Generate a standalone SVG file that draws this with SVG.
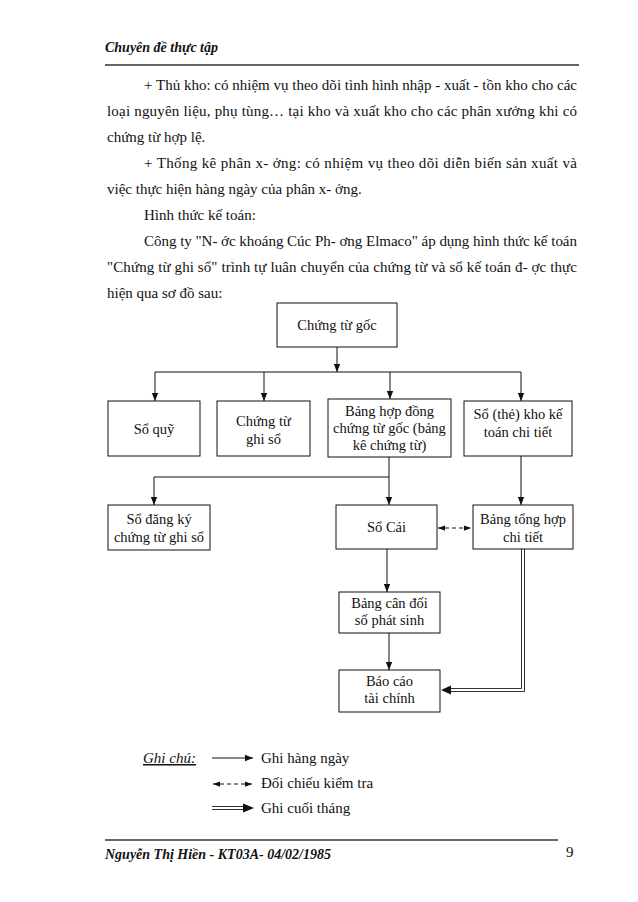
<svg xmlns="http://www.w3.org/2000/svg" width="638" height="902" viewBox="0 0 638 902">
<defs>
<style>
.body{font-family:"Liberation Serif","Times New Roman",serif;font-size:15px;fill:#111}
.bx{fill:#fff;stroke:#111;stroke-width:1}
.lbl{font-family:"Liberation Serif","Times New Roman",serif;font-size:14.5px;fill:#111;text-anchor:middle}
.ln{fill:none;stroke:#111;stroke-width:1}
.dash{fill:none;stroke:#111;stroke-width:1;stroke-dasharray:4 3}
.dbl{fill:none;stroke:#333;stroke-width:1}
.scr{font-family:"Liberation Serif","Times New Roman",serif;font-style:italic;font-weight:bold;fill:#111}
</style>
<marker id="ah" viewBox="0 0 8 8" refX="8" refY="4" markerWidth="8" markerHeight="8" markerUnits="userSpaceOnUse" orient="auto">
<path d="M0,0.8 L8,4 L0,7.2 Z" fill="#111"/>
</marker>
<marker id="ahs" viewBox="0 0 8 8" refX="8" refY="4" markerWidth="7" markerHeight="7" markerUnits="userSpaceOnUse" orient="auto-start-reverse">
<path d="M0,1 L8,4 L0,7 Z" fill="#111"/>
</marker>
</defs>
<rect width="638" height="902" fill="#fff"/>

<g id="header">
<text class="scr" x="105" y="52" font-size="14">Chuyên đề thực tập</text>
<line x1="105" y1="65" x2="579" y2="65" stroke="#666" stroke-width="2"/>
</g>

<g id="paragraphs" class="body">
<text x="144" y="90" textLength="433" lengthAdjust="spacing">+ Thủ kho: có nhiệm vụ theo dõi tình hình nhập - xuất - tồn kho cho các</text>
<text x="107" y="116" textLength="470" lengthAdjust="spacing">loại nguyên liệu, phụ tùng… tại kho và xuất kho cho các phân xưởng khi có</text>
<text x="107" y="142">chứng từ hợp lệ.</text>
<text x="144" y="168" textLength="433" lengthAdjust="spacing">+ Thống kê phân x- ởng: có nhiệm vụ theo dõi diễn biến sản xuất và</text>
<text x="107" y="194">việc thực hiện hàng ngày của phân x- ởng.</text>
<text x="144" y="220">Hình thức kế toán:</text>
<text x="144" y="246" textLength="433" lengthAdjust="spacing">Công ty "N- ớc khoáng Cúc Ph- ơng Elmaco" áp dụng hình thức kế toán</text>
<text x="107" y="272" textLength="470" lengthAdjust="spacing">"Chứng từ ghi sổ" trình tự luân chuyển của chứng từ và sổ kế toán đ- ợc thực</text>
<text x="107" y="298">hiện qua sơ đồ sau:</text>
</g>

<g id="connectors">
<line class="ln" x1="337" y1="347" x2="337" y2="372" marker-end="url(#ah)"/>
<line class="ln" x1="155" y1="372" x2="521" y2="372"/>
<line class="ln" x1="155" y1="372" x2="155" y2="401" marker-end="url(#ah)"/>
<line class="ln" x1="264" y1="372" x2="264" y2="401" marker-end="url(#ah)"/>
<line class="ln" x1="390" y1="372" x2="390" y2="399" marker-end="url(#ah)"/>
<line class="ln" x1="521" y1="372" x2="521" y2="401" marker-end="url(#ah)"/>
<line class="ln" x1="389" y1="457" x2="389" y2="505" marker-end="url(#ah)"/>
<polyline class="ln" points="389,477 154,477 154,505" marker-end="url(#ah)"/>
<line class="ln" x1="521" y1="456" x2="521" y2="505" marker-end="url(#ah)"/>
<line class="dash" x1="438" y1="528" x2="471" y2="528" marker-start="url(#ahs)" marker-end="url(#ahs)"/>
<line class="ln" x1="387" y1="549" x2="387" y2="592" marker-end="url(#ah)"/>
<line class="ln" x1="389" y1="633" x2="389" y2="670" marker-end="url(#ah)"/>
<polyline class="dbl" points="521.5,549 521.5,688.5 449,688.5"/>
<polyline class="dbl" points="524.5,549 524.5,691.5 449,691.5"/>
<path d="M441,690 L451,685.5 L451,694.5 Z" fill="#111"/>
</g>

<g id="n-chungtugoc">
<rect class="bx" x="277" y="303" width="120" height="44"/>
<text class="lbl" x="337" y="330">Chứng từ gốc</text>
</g>
<g id="n-soquy">
<rect class="bx" x="108" y="401" width="92" height="55"/>
<text class="lbl" x="154" y="434">Sổ quỹ</text>
</g>
<g id="n-chungtughiso">
<rect class="bx" x="217" y="401" width="93" height="55"/>
<text class="lbl" x="263.5" y="426">Chứng từ</text>
<text class="lbl" x="263.5" y="444">ghi sổ</text>
</g>
<g id="n-banghopdong">
<rect class="bx" x="328" y="399" width="123" height="58"/>
<text class="lbl" x="389.5" y="416">Bảng hợp đồng</text>
<text class="lbl" x="389.5" y="433">chứng từ gốc (bảng</text>
<text class="lbl" x="389.5" y="450">kê chứng từ)</text>
</g>
<g id="n-sothekho">
<rect class="bx" x="464" y="401" width="108" height="55"/>
<text class="lbl" x="518" y="419">Sổ (thẻ) kho kế</text>
<text class="lbl" x="518" y="437">toán chi tiết</text>
</g>
<g id="n-sodangky">
<rect class="bx" x="108" y="505" width="102" height="45"/>
<text class="lbl" x="159" y="524">Sổ đăng ký</text>
<text class="lbl" x="159" y="542">chứng từ ghi sổ</text>
</g>
<g id="n-socai">
<rect class="bx" x="336" y="505" width="101" height="44"/>
<text class="lbl" x="386.5" y="532">Sổ Cái</text>
</g>
<g id="n-bangtonghop">
<rect class="bx" x="473" y="505" width="100" height="44"/>
<text class="lbl" x="523" y="524">Bảng tổng hợp</text>
<text class="lbl" x="523" y="542">chi tiết</text>
</g>
<g id="n-bangcandoi">
<rect class="bx" x="339" y="592" width="101" height="41"/>
<text class="lbl" x="389.5" y="608">Bảng cân đối</text>
<text class="lbl" x="389.5" y="625">số phát sinh</text>
</g>
<g id="n-baocao">
<rect class="bx" x="339" y="670" width="101" height="42"/>
<text class="lbl" x="389.5" y="686">Báo cáo</text>
<text class="lbl" x="389.5" y="703">tài chính</text>
</g>

<g id="legend">
<text class="body" x="143" y="763" font-style="italic" text-decoration="underline">Ghi chú:</text>
<line class="ln" x1="212" y1="758" x2="253" y2="758" marker-end="url(#ah)"/>
<text class="body" x="261" y="763">Ghi hàng ngày</text>
<line class="dash" x1="213" y1="784" x2="252" y2="784" marker-start="url(#ahs)" marker-end="url(#ahs)"/>
<text class="body" x="261" y="788">Đối chiếu kiểm tra</text>
<line x1="212" y1="806.5" x2="245" y2="806.5" stroke="#333" stroke-width="1"/>
<line x1="212" y1="809.5" x2="245" y2="809.5" stroke="#333" stroke-width="1"/>
<path d="M254,808 L243,803.5 L243,812.5 Z" fill="#111"/>
<text class="body" x="261" y="813">Ghi cuối tháng</text>
</g>

<g id="footer">
<line x1="105" y1="840" x2="558" y2="840" stroke="#333" stroke-width="1.5"/>
<text class="scr" x="105" y="859" font-size="14">Nguyễn Thị Hiền - KT03A- 04/02/1985</text>
<text class="body" x="566" y="857" font-size="15">9</text>
</g>
</svg>
